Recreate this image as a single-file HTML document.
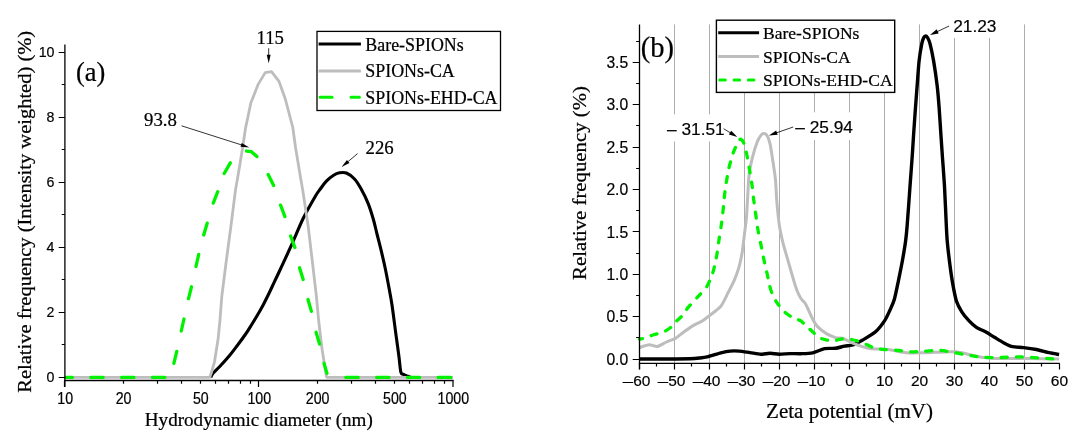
<!DOCTYPE html>
<html lang="en"><head><meta charset="utf-8"><title>DLS and zeta potential distributions</title>
<style>html,body{margin:0;padding:0;background:#fff}svg{display:block}.s{font-family:"Liberation Serif", serif;stroke:#000;stroke-width:.22px}.a{font-family:"Liberation Sans", sans-serif;stroke:#000;stroke-width:.18px}</style></head><body>
<svg width="1080" height="440" viewBox="0 0 1080 440">
<rect width="1080" height="440" fill="#fff"/>
<g id="chart-a">
<g fill="none" stroke-width="3" stroke-linejoin="round">
<path d="M210.8 377.4C211.08 376.82 210.97 375.75 212.5 373.9C214.03 372.05 217.08 369.45 220 366.3C222.92 363.15 227.08 358.52 230 355C232.92 351.48 235 348.53 237.5 345.2C240 341.87 242.7 338.33 245 335C247.3 331.67 249.22 328.53 251.3 325.2C253.38 321.87 255.43 318.55 257.5 315C259.57 311.45 261.82 307.43 263.7 303.9C265.58 300.37 267 297.52 268.8 293.8C270.6 290.08 272.63 285.57 274.5 281.6C276.37 277.63 277.12 276.2 280 270C282.88 263.8 287.88 253.1 291.8 244.4C295.72 235.7 299.55 225.87 303.5 217.8C307.45 209.73 312.7 200.8 315.5 196C318.3 191.2 318.48 191.48 320.3 189C322.12 186.52 324.18 183.4 326.4 181.1C328.62 178.8 331.42 176.58 333.6 175.2C335.78 173.82 337.37 173.17 339.5 172.8C341.63 172.43 343.9 171.97 346.4 173C348.9 174.03 352.08 176.4 354.5 179C356.92 181.6 358.62 184.5 360.9 188.6C363.18 192.7 366.12 198.45 368.2 203.6C370.28 208.75 371.93 214.43 373.4 219.5C374.87 224.57 375.8 229.22 377 234C378.2 238.78 379.23 242.5 380.6 248.2C381.97 253.9 383.73 261.23 385.2 268.2C386.67 275.17 388.27 283.87 389.4 290C390.53 296.13 390.97 298 392 305C393.03 312 394.82 326.17 395.6 332C396.38 337.83 396.13 335.83 396.7 340C397.27 344.17 398.3 351.6 399 357C399.7 362.4 400.15 369.52 400.9 372.4C401.65 375.28 402.32 373.65 403.5 374.3C404.68 374.95 406.75 375.78 408 376.3C409.25 376.82 410.5 377.22 411 377.4" stroke="#000" stroke-linecap="butt" stroke-width="3.1"/>
<path d="M64.9 377.4L209.6 377.4L211.3 373L214.5 361.8L218.2 338.2L220 320L221.8 296.4L226.4 260L230.9 226.4L235.5 190L238.2 174.5L242.7 147.3L245.5 128.2L250.9 102.7L258.3 84.1L265.2 72.6L271.5 71.7L279 81.4L285.3 99L292.8 127.5L295.5 147.3L300 174.5L302.7 190L308.2 226.4L312.4 262L316.4 296.4L318.6 320L320.9 340L322.2 350L326.4 376.6L327.2 377.4L453 377.4" stroke="#bdbdbd" stroke-width="2.8"/>
<path d="M66.05 377.4H72.35M90.85 377.4H103.15M121.65 377.4H133.95M152.45 377.4H164.85M345.85 377.4H358.15M376.65 377.4H388.95M407.35 377.4H419.65M438.15 377.4H450.75M173.89 363.28L176.77 351.32M181.28 331L183.96 319M188.52 298.72L191.48 286.78M196 266.45L198.7 254.45M203.71 235L207.19 223.2M213.24 203.12L217.74 191.68M224.19 173.48L230.31 162.82M246.49 151.03L251.4 151.7L256.92 156.54M268.18 174.48L273.62 185.52M280.58 205.14L284.92 216.66M290.58 236.04L294.92 247.56M299.53 267.78L303.17 279.52M307.99 299.54L311.41 311.36M316.04 332.31L319.58 344.09M324.01 363.21L326.98 373.39" stroke="#00f200" stroke-linecap="round" stroke-width="3.3"/>
</g>
<g stroke="#000" stroke-width="1.3" fill="none">
<path d="M64.9 44.5V387"/>
<path d="M64.25 380.5H453.65"/>
<path d="M64.9 377.5h-6.2M64.9 344.5h-3.2M64.9 312.5h-6.2M64.9 279.5h-3.2M64.9 247.5h-6.2M64.9 214.5h-3.2M64.9 182.5h-6.2M64.9 149.5h-3.2M64.9 117.5h-6.2M64.9 84.5h-3.2M64.9 52.5h-6.2" stroke-width="1.2"/>
<path d="M64.5 380.5v6.5M123.5 380.5v3.3M157.5 380.5v3.3M181.5 380.5v3.3M200.5 380.5v3.3M215.5 380.5v3.3M228.5 380.5v3.3M240.5 380.5v3.3M250.5 380.5v3.3M258.5 380.5v6.5M317.5 380.5v3.3M351.5 380.5v3.3M375.5 380.5v3.3M394.5 380.5v3.3M409.5 380.5v3.3M422.5 380.5v3.3M434.5 380.5v3.3M444.5 380.5v3.3M453 380.5v6.5" stroke-width="1.2"/>
</g>
<g class="a" font-size="14.2" fill="#000">
<text x="54.5" y="381.9" text-anchor="end">0</text>
<text x="54.5" y="316.9" text-anchor="end">2</text>
<text x="54.5" y="251.9" text-anchor="end">4</text>
<text x="54.5" y="186.9" text-anchor="end">6</text>
<text x="54.5" y="121.9" text-anchor="end">8</text>
<text x="54.5" y="56.9" text-anchor="end">10</text>
<text transform="translate(65.2 404.2) scale(1 1.15)" text-anchor="middle">10</text>
<text transform="translate(123.61 404.2) scale(1 1.15)" text-anchor="middle">20</text>
<text transform="translate(200.84 404.2) scale(1 1.15)" text-anchor="middle">50</text>
<text transform="translate(259.25 404.2) scale(1 1.15)" text-anchor="middle">100</text>
<text transform="translate(317.66 404.2) scale(1 1.15)" text-anchor="middle">200</text>
<text transform="translate(394.89 404.2) scale(1 1.15)" text-anchor="middle">500</text>
<text transform="translate(453.3 404.2) scale(1 1.15)" text-anchor="middle">1000</text>
</g>
<g class="s" fill="#000">
<text x="258.8" y="425.9" font-size="19.1" text-anchor="middle">Hydrodynamic diameter (nm)</text>
<text transform="translate(30.6 211.8) rotate(-90) scale(1.126 1)" font-size="18.2" text-anchor="middle">Relative frequency (Intensity weighted) (%)</text>
<text x="76" y="81.2" font-size="26.4">(a)</text>
<text x="256.5" y="43.6" font-size="18.8">115</text>
<text x="144" y="126.2" font-size="18.8">93.8</text>
<text x="365.5" y="153.5" font-size="18.8">226</text>
</g>
<g stroke="#000" stroke-width="0.8" fill="#000">
<path d="M268.7 48.2L268.7 55.7" fill="none"/><path d="M268.7 63.3L266.75 54.7L270.65 54.7z" stroke="none"/>
<path d="M181.5 125.8L242.06 145.09" fill="none"/><path d="M249.3 147.4L240.51 146.65L241.7 142.93z" stroke="none"/>
<path d="M357.6 153.6L347.43 162.12" fill="none"/><path d="M341.6 167L346.94 159.98L349.45 162.97z" stroke="none"/>
</g>
<rect x="317" y="31.4" width="183.5" height="79.1" fill="#fff" stroke="#000" stroke-width="1.3"/>
<g fill="none" stroke-width="3">
<path d="M318.6 43.9H360.9" stroke="#000"/>
<path d="M318.6 71.1H360.9" stroke="#bdbdbd"/>
<path d="M320.1 97.3H332.1M351 97.3H359.4" stroke="#00f200" stroke-linecap="round"/>
</g>
<g class="s" font-size="17.9" fill="#000">
<text x="365.3" y="50.7">Bare-SPIONs</text>
<text x="365.3" y="77.3">SPIONs-CA</text>
<text x="365.3" y="103.6">SPIONs-EHD-CA</text>
</g>
</g>
<g id="chart-b">
<path d="M674.5 24.4V363.4M709.5 24.4V363.4M744.5 24.4V363.4M779.5 24.4V363.4M814.5 24.4V363.4M849.5 24.4V363.4M884.5 24.4V363.4M919.5 24.4V363.4M954.5 24.4V363.4M989.5 24.4V363.4M1024.5 24.4V363.4" stroke="#adadad" stroke-width="1" fill="none"/>
<g fill="none" stroke-width="3" stroke-linejoin="round">
<path d="M639.5 359C642.9 359 658.27 359.03 665 359C671.73 358.97 685.33 358.93 690 358.8C694.67 358.67 697.57 358.29 700 358C702.43 357.71 705.41 357.28 708.2 356.6C710.99 355.92 717.99 353.63 720.9 352.9C723.81 352.17 727.57 351.34 730 351.1C732.43 350.86 736.43 350.9 739.1 351.1C741.77 351.3 747.09 352.19 750 352.6C752.91 353.01 758.23 354.11 760.9 354.2C763.57 354.29 767.57 353.3 770 353.3C772.43 353.3 776.43 354.16 779.1 354.2C781.77 354.24 787.09 353.67 790 353.6C792.91 353.53 797.87 353.81 800.9 353.7C803.93 353.59 809.55 353.47 812.7 352.8C815.85 352.13 821.46 349.3 824.5 348.7C827.54 348.1 832.83 348.65 835.5 348.3C838.17 347.95 842.21 346.54 844.5 346.1C846.79 345.66 850.27 345.81 852.7 345C855.13 344.19 859.66 341.76 862.7 340C865.74 338.24 872.59 334.35 875.5 331.8C878.41 329.25 882.57 323.81 884.5 320.9C886.43 317.99 888.69 312.85 890 310C891.31 307.15 893.21 303.26 894.3 299.5C895.39 295.74 897.15 286.83 898.2 281.8C899.25 276.77 901.23 267.13 902.2 261.8C903.17 256.47 904.83 246.71 905.5 241.8C906.17 236.89 906.6 232.39 907.2 225C907.8 217.61 909.32 195.73 910 186.4C910.68 177.07 911.82 161.92 912.3 155C912.78 148.08 913.17 140.86 913.6 134.5C914.03 128.14 915.02 113.9 915.5 107.3C915.98 100.7 916.72 91.19 917.2 85C917.68 78.81 918.49 66.42 919.1 60.9C919.71 55.38 921.17 46.72 921.8 43.6C922.43 40.48 923.31 38.53 923.8 37.5C924.29 36.47 925.01 35.9 925.5 35.9C925.99 35.9 926.9 36.47 927.5 37.5C928.1 38.53 929.19 40.48 930 43.6C930.81 46.72 932.64 55.25 933.6 60.9C934.56 66.55 936.47 79.81 937.2 86C937.93 92.19 938.61 100.83 939.1 107.3C939.59 113.77 940.47 128.14 940.9 134.5C941.33 140.86 941.82 148.08 942.3 155C942.78 161.92 943.97 177.07 944.5 186.4C945.03 195.73 945.93 217.61 946.3 225C946.67 232.39 946.81 236.4 947.3 241.8C947.79 247.2 949.28 259.93 950 265.5C950.72 271.07 951.85 278.88 952.7 283.6C953.55 288.32 955.19 297.14 956.4 300.9C957.61 304.66 960.11 309.13 961.8 311.8C963.49 314.47 967.15 318.83 969.1 320.9C971.05 322.97 974.21 325.85 976.4 327.3C978.59 328.75 983.09 330.47 985.5 331.8C987.91 333.13 992.09 335.85 994.5 337.3C996.91 338.75 1001.17 341.45 1003.6 342.7C1006.03 343.95 1010.03 346.05 1012.7 346.7C1015.37 347.35 1020.44 347.23 1023.6 347.6C1026.76 347.97 1033 348.82 1036.4 349.5C1039.8 350.18 1046.07 352.03 1049.1 352.7C1052.13 353.37 1057.77 354.26 1059.1 354.5" stroke="#000" stroke-width="3.4"/>
<path d="M639.5 347.6C640.78 347.23 646.7 344.96 649.1 344.8C651.5 344.64 655.18 346.77 657.5 346.4C659.82 346.03 664.11 343.07 666.5 342C668.89 340.93 673.05 339.76 675.4 338.4C677.75 337.04 681.67 333.53 684.1 331.8C686.53 330.07 691.17 326.84 693.6 325.4C696.03 323.96 700.18 322.31 702.3 321C704.42 319.69 707.74 316.93 709.5 315.6C711.26 314.27 714.01 312.21 715.5 311C716.99 309.79 719.5 307.97 720.7 306.5C721.9 305.03 723.55 301.77 724.5 300C725.45 298.23 726.93 294.93 727.8 293.2C728.67 291.47 730.17 288.64 731 287C731.83 285.36 733.24 282.63 734 280.9C734.76 279.17 736.02 275.91 736.7 274C737.38 272.09 738.55 268.53 739.1 266.6C739.65 264.67 740.39 261.41 740.8 259.5C741.21 257.59 741.84 254.63 742.2 252.3C742.56 249.97 743.18 244.57 743.5 242C743.82 239.43 744.21 236.17 744.6 233C744.99 229.83 746.01 222.6 746.4 218.2C746.79 213.8 747.14 205.83 747.5 200C747.86 194.17 748.41 180.31 749.1 174.5C749.79 168.69 751.61 160.76 752.7 156.4C753.79 152.04 756.21 144.61 757.3 141.8C758.39 138.99 760.06 136.39 760.9 135.3C761.74 134.21 762.8 133.6 763.6 133.6C764.4 133.6 766.05 133.97 766.9 135.3C767.75 136.63 769.23 140.31 770 143.6C770.77 146.89 771.97 155.15 772.7 160C773.43 164.85 774.97 174.67 775.5 180C776.03 185.33 776.22 194.19 776.7 200C777.18 205.81 778.3 218.03 779.1 223.6C779.9 229.17 781.61 237.19 782.7 241.8C783.79 246.41 785.85 253.11 787.3 258.2C788.75 263.29 792.33 275.76 793.6 280C794.87 284.24 795.83 287.53 796.8 290C797.77 292.47 799.81 296.77 800.9 298.5C801.99 300.23 804.08 301.67 805 303C805.92 304.33 806.77 306.35 807.8 308.5C808.83 310.65 811.43 316.71 812.7 319.1C813.97 321.49 815.47 324.47 817.3 326.4C819.13 328.33 823.97 332.11 826.4 333.6C828.83 335.09 833.33 336.99 835.5 337.6C837.67 338.21 840.77 337.64 842.7 338.2C844.63 338.76 847.81 340.83 850 341.8C852.19 342.77 856.43 344.61 859.1 345.5C861.77 346.39 866.12 347.95 870 348.5C873.88 349.05 883.35 349.04 888.2 349.6C893.05 350.16 901.56 352.29 906.4 352.7C911.24 353.11 920.02 352.77 924.5 352.7C928.98 352.63 936.24 352.32 940 352.2C943.76 352.08 949.79 351.73 952.7 351.8C955.61 351.87 959.13 352.21 961.8 352.7C964.47 353.19 969.79 354.85 972.7 355.5C975.61 356.15 980.69 357.21 983.6 357.6C986.51 357.99 988.67 358.29 994.5 358.4C1000.33 358.51 1018.69 358.31 1027.3 358.4C1035.91 358.49 1054.86 359.01 1059.1 359.1" stroke="#bdbdbd"/>
<path d="M639.5 339.2C640.35 339.01 644.19 338.33 645.9 337.8C647.61 337.27 650.51 335.81 652.3 335.2C654.09 334.59 657.5 333.79 659.3 333.2C661.1 332.61 664.2 331.63 665.8 330.8C667.4 329.97 669.82 328.35 671.3 327C672.78 325.65 675.41 322.23 676.9 320.7C678.39 319.17 680.99 317.29 682.5 315.5C684.01 313.71 687.04 308.83 688.2 307.3C689.36 305.77 689.87 305.45 691.2 304C692.53 302.55 696.17 298.63 698.2 296.4C700.23 294.17 704.83 289.49 706.4 287.3C707.97 285.11 709.04 282.31 710 280C710.96 277.69 712.68 273.4 713.6 270C714.52 266.6 716.17 258.62 716.9 254.5C717.63 250.38 718.49 243.22 719.1 239.1C719.71 234.98 720.9 228.08 721.5 223.6C722.1 219.12 723.2 209.25 723.6 205.5C724 201.75 724.13 198.66 724.5 195.5C724.87 192.34 725.79 185.56 726.4 181.8C727.01 178.04 728.26 170.94 729.1 167.3C729.94 163.66 731.85 157.17 732.7 154.5C733.55 151.83 734.65 149.18 735.5 147.3C736.35 145.42 738.38 141.47 739.1 140.4C739.82 139.33 740.3 139.01 740.9 139.3C741.5 139.59 742.87 140.81 743.6 142.6C744.33 144.39 745.67 149.41 746.4 152.7C747.13 155.99 748.38 163.18 749.1 167.3C749.82 171.42 751.2 179.37 751.8 183.6C752.4 187.83 753.11 195.12 753.6 199C754.09 202.88 754.94 208.69 755.5 212.7C756.06 216.71 757.08 224.86 757.8 229.1C758.52 233.34 760.07 240.38 760.9 244.5C761.73 248.62 763.15 256 764 260C764.85 264 766.62 271.35 767.3 274.5C767.98 277.65 768.5 281.17 769.1 283.6C769.7 286.03 770.83 290.27 771.8 292.7C772.77 295.13 774.71 299.25 776.4 301.8C778.09 304.35 782.21 309.61 784.5 311.8C786.79 313.99 791.41 316.99 793.6 318.2C795.79 319.41 799.19 319.81 800.9 320.9C802.61 321.99 804.95 325.07 806.4 326.4C807.85 327.73 810.11 329.41 811.8 330.9C813.49 332.39 817.15 336.39 819.1 337.6C821.05 338.81 824.47 339.56 826.4 340C828.33 340.44 831.67 341.02 833.6 340.9C835.53 340.78 838.83 339.34 840.9 339.1C842.97 338.86 846.91 338.86 849.1 339.1C851.29 339.34 854.99 340.18 857.3 340.9C859.61 341.62 863.97 343.49 866.4 344.5C868.83 345.51 873.09 347.83 875.5 348.5C877.91 349.17 881.35 349.23 884.5 349.5C887.65 349.77 895.7 350.19 899.1 350.5C902.5 350.81 906.61 351.71 910 351.8C913.39 351.89 920.62 351.41 924.5 351.2C928.38 350.99 935.1 350 939.1 350.2C943.1 350.4 950.74 352.05 954.5 352.7C958.26 353.35 963.42 354.49 967.3 355.1C971.18 355.71 979.48 356.97 983.6 357.3C987.72 357.63 993.83 357.65 998.2 357.6C1002.57 357.55 1012.04 356.94 1016.4 356.9C1020.76 356.86 1027.02 357.1 1030.9 357.3C1034.78 357.5 1041.74 358.16 1045.5 358.4C1049.26 358.64 1057.29 359.01 1059.1 359.1" stroke="#00f200" stroke-linecap="round" stroke-width="3.3" stroke-dasharray="6 9.2" stroke-dashoffset="3"/>
</g>
<rect x="664" y="114.3" width="60" height="27.1" fill="#fff"/>
<rect x="792" y="112.3" width="62" height="27.8" fill="#fff"/>
<rect x="950" y="9" width="50" height="29" fill="#fff"/>
<g stroke="#000" stroke-width="1.3" fill="none">
<path d="M639.5 24.4V369.3"/>
<path d="M638.85 363.4H1059.8"/>
<path d="M639.5 359.5h-6.8M639.5 337.5h-3.4M639.5 316.5h-6.8M639.5 295.5h-3.4M639.5 274.5h-6.8M639.5 253.5h-3.4M639.5 231.5h-6.8M639.5 210.5h-3.4M639.5 189.5h-6.8M639.5 168.5h-3.4M639.5 147.5h-6.8M639.5 125.5h-3.4M639.5 104.5h-6.8M639.5 83.5h-3.4M639.5 62.5h-6.8M639.5 41.5h-3.4" stroke-width="1.2"/>
<path d="M639.5 363.4v6M656.5 363.4v3.2M674.5 363.4v6M691.5 363.4v3.2M709.5 363.4v6M726.5 363.4v3.2M744.5 363.4v6M761.5 363.4v3.2M779.5 363.4v6M796.5 363.4v3.2M814.5 363.4v6M831.5 363.4v3.2M849.5 363.4v6M866.5 363.4v3.2M884.5 363.4v6M901.5 363.4v3.2M919.5 363.4v6M936.5 363.4v3.2M954.5 363.4v6M971.5 363.4v3.2M989.5 363.4v6M1006.5 363.4v3.2M1024.5 363.4v6M1041.5 363.4v3.2M1059.5 363.4v6" stroke-width="1.2"/>
</g>
<g class="a" font-size="15.5" fill="#000">
<text font-size="15.7" x="628.2" y="364.7" text-anchor="end">0.0</text>
<text font-size="15.7" x="628.2" y="322.3" text-anchor="end">0.5</text>
<text font-size="15.7" x="628.2" y="279.9" text-anchor="end">1.0</text>
<text font-size="15.7" x="628.2" y="237.5" text-anchor="end">1.5</text>
<text font-size="15.7" x="628.2" y="195.1" text-anchor="end">2.0</text>
<text font-size="15.7" x="628.2" y="152.7" text-anchor="end">2.5</text>
<text font-size="15.7" x="628.2" y="110.3" text-anchor="end">3.0</text>
<text font-size="15.7" x="628.2" y="67.9" text-anchor="end">3.5</text>
<text x="650.5" y="386.4" text-anchor="end">60</text>
<text transform="translate(622.8 386.4) scale(1.2 1)">–</text>
<text x="685.48" y="386.4" text-anchor="end">50</text>
<text transform="translate(657.77 386.4) scale(1.2 1)">–</text>
<text x="720.45" y="386.4" text-anchor="end">40</text>
<text transform="translate(692.75 386.4) scale(1.2 1)">–</text>
<text x="755.43" y="386.4" text-anchor="end">30</text>
<text transform="translate(727.73 386.4) scale(1.2 1)">–</text>
<text x="790.4" y="386.4" text-anchor="end">20</text>
<text transform="translate(762.7 386.4) scale(1.2 1)">–</text>
<text x="825.38" y="386.4" text-anchor="end">10</text>
<text transform="translate(797.67 386.4) scale(1.2 1)">–</text>
<text x="849.55" y="386.4" text-anchor="middle">0</text>
<text x="884.53" y="386.4" text-anchor="middle">10</text>
<text x="919.5" y="386.4" text-anchor="middle">20</text>
<text x="954.48" y="386.4" text-anchor="middle">30</text>
<text x="989.45" y="386.4" text-anchor="middle">40</text>
<text x="1024.42" y="386.4" text-anchor="middle">50</text>
<text x="1059.4" y="386.4" text-anchor="middle">60</text>
</g>
<g class="a" font-size="17.3" fill="#000">
<text x="667" y="134.6">– 31.51</text>
<text x="795.3" y="132.8">– 25.94</text>
<text x="953.2" y="32">21.23</text>
</g>
<g stroke="#000" stroke-width="0.8" fill="#000">
<path d="M723.6 128.7L730.91 133.18" fill="none"/><path d="M737.3 137.1L728.85 134.62L731.26 130.7z" stroke="none"/>
<path d="M793.2 127L775.98 133.02" fill="none"/><path d="M768.9 135.5L776.16 130.52L777.68 134.86z" stroke="none"/>
<path d="M949.1 26L936.77 31.87" fill="none"/><path d="M930 35.1L936.68 29.37L938.66 33.52z" stroke="none"/>
</g>
<g class="s" fill="#000">
<text x="849.5" y="417.6" font-size="21" text-anchor="middle">Zeta potential (mV)</text>
<text transform="translate(586.4 183) rotate(-90) scale(1.155 1)" font-size="18" text-anchor="middle">Relative frequency (%)</text>
<text x="640.7" y="57.2" font-size="28.5">(b)</text>
</g>
<rect x="716.4" y="20.2" width="178.3" height="72.2" fill="#fff" stroke="#000" stroke-width="1.4"/>
<g fill="none" stroke-width="3">
<path d="M718.2 32.7H759.1" stroke="#000"/>
<path d="M718.2 56.6H759.1" stroke="#bdbdbd"/>
<path d="M719.7 80H757" stroke="#00f200" stroke-linecap="round" stroke-dasharray="5.6 8.7"/>
</g>
<g class="s" font-size="17.55" fill="#000">
<text x="763" y="38.9">Bare-SPIONs</text>
<text x="763" y="62.7">SPIONs-CA</text>
<text x="763" y="85.5">SPIONs-EHD-CA</text>
</g>
</g>
</svg></body></html>
